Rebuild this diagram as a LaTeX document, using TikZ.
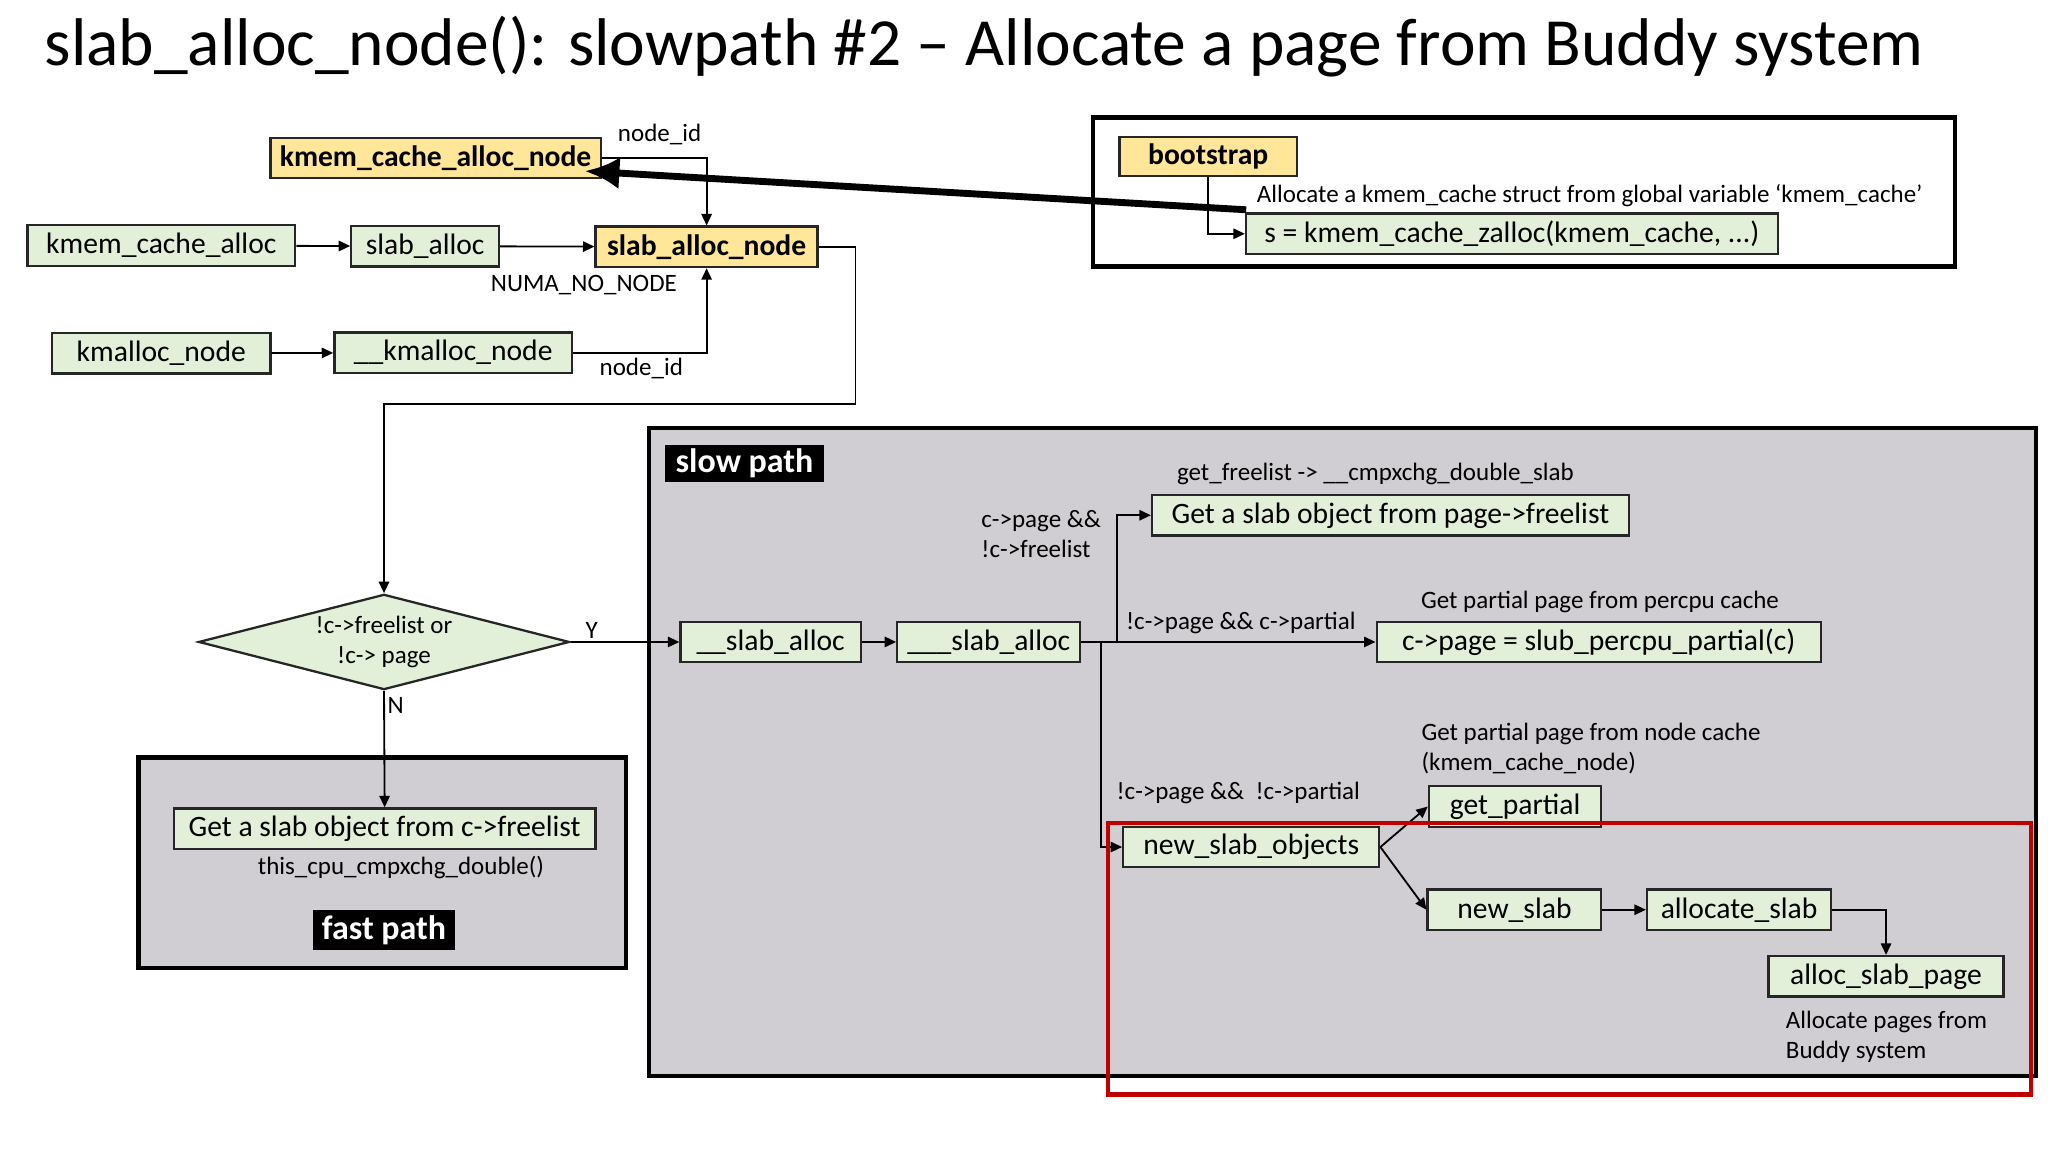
\documentclass[tikz,border=0pt]{standalone}
\usepackage{fontspec}
\setmainfont{Carlito}
\usetikzlibrary{arrows.meta,shapes.geometric,calc}
\definecolor{slabGreen} {RGB}{226, 240, 217}
\definecolor{slabYellow}{RGB}{255, 230, 153}
\definecolor{slabGray}  {RGB}{208, 206, 210}
\definecolor{slabRed}   {RGB}{192,   0,   0}

\tikzset{
  fn/.style={draw=black!85,fill=slabGreen,line width=1pt,
             minimum height=0.62cm,inner sep=1pt,
             font=\fontsize{12.9}{15}\selectfont},
  hot/.style={fn,fill=slabYellow,font=\fontsize{12.9}{15}\selectfont\bfseries},
  lbl/.style={font=\fontsize{10.9}{13}\selectfont,inner sep=0pt,align=left},
  tag/.style={fill=black,text=white,inner sep=1pt,
              font=\fontsize{14.8}{17}\selectfont\bfseries},
  frame/.style={line width=1.8pt},
  arr/.style={-{Triangle[length=5pt,width=4.5pt]},line width=0.8pt},
}

\begin{document}
\begin{tikzpicture}[x=0.02cm,y=-0.02cm]
  \useasboundingbox (0,0) rectangle (1568,882);

  \node[anchor=base west,font=\fontsize{29.4}{34}\selectfont] (title) at (28,50)
    {slab\_alloc\_node(): slowpath \#2 – Allocate a page from Buddy system};

  % containers
  \draw[frame,fill=white] (837,90) rectangle (1497,204);
  \draw[frame,fill=slabGray] (106,580) rectangle (479,741);
  \draw[frame,fill=slabGray] (497,328) rectangle (1559,824);

  % entry points
  \node[hot,minimum width=5.06cm] (kcan) at (333.5,121) {kmem\_cache\_alloc\_node};
  \node[hot,minimum width=3.40cm] (san) at (541,189) {slab\_alloc\_node};
  \node[hot,minimum width=2.72cm,minimum height=0.60cm] (boot) at (925,120) {bootstrap};

  \foreach \nm/\x/\y/\w/\txt in {
    kca/123.5/188/205/{kmem\_cache\_alloc},
    sla/325.5/188.5/113/{slab\_alloc},
    kmn/123.5/270.5/167/{kmalloc\_node},
    kn2/347/270/182/{\_\_kmalloc\_node},
    zal/1157.5/179/407/{s = kmem\_cache\_zalloc(kmem\_cache, ...)},
    fl/294.5/634.5/323/{Get a slab object from c->freelist},
    sa1/590/491.5/138/{\_\_slab\_alloc},
    sa2/757/491.5/140/{\_\_\_slab\_alloc},
    pfl/1064.5/394.5/365/{Get a slab object from page->freelist},
    pcpu/1224/491.5/340/{c->page = slub\_percpu\_partial(c)},
    gp/1160/617.5/132/{get\_partial},
    nso/958/648.5/196/{new\_slab\_objects},
    ns/1159.5/696.5/133/{new\_slab},
    as/1331.5/696.5/141/{allocate\_slab},
    asp/1444/747.5/180/{alloc\_slab\_page}}{
    \node[fn,minimum width=\w*0.02cm] (\nm) at (\x,\y) {\txt};
  }

  \node[diamond,aspect=3.9,draw=black!85,fill=slabGreen,line width=1pt,inner sep=0pt,
        minimum width=5.68cm,minimum height=1.46cm,align=center,
        font=\fontsize{10.9}{13}\selectfont] (cond) at (294,491.5)
    {!c->freelist or\\!c-> page};

  \node[tag,minimum width=2.44cm,minimum height=0.56cm] (slow) at (570,355) {slow path};
  \node[tag,minimum width=2.16cm,minimum height=0.60cm] (fast) at (294,712) {fast path};

  % labels
  \node[lbl] (l1) at (505,103) {node\_id};
  \node[lbl] (l2) at (447,218) {NUMA\_NO\_NODE};
  \node[lbl] (l3) at (491,282) {node\_id};
  \node[lbl,anchor=west] (l4) at (962,150)
    {Allocate a kmem\_cache struct from global variable ‘kmem\_cache’};
  \node[lbl] (ly) at (453,483) {Y};
  \node[lbl] (ln) at (303,540) {N};
  \node[lbl] (l5) at (307,664) {this\_cpu\_cmpxchg\_double()};
  \node[lbl] (l6) at (1053,363) {get\_freelist -> \_\_cmpxchg\_double\_slab};
  \node[lbl,anchor=west] (l7) at (751,409) {c->page \&\&\\!c->freelist};
  \node[lbl] (l8) at (950,477) {!c->page \&\& c->partial};
  \node[lbl] (l9) at (1225,461) {Get partial page from percpu cache};
  \node[lbl] (l10) at (948,607) {!c->page \&\&~~!c->partial};
  \node[lbl,anchor=west] (l11) at (1088,573)
    {Get partial page from node cache\\(kmem\_cache\_node)};
  \node[lbl,anchor=west] (l12) at (1367,794) {Allocate pages from\\Buddy system};

  % connectors
  \draw[arr] (kca) -- (sla);
  \draw[arr] (sla) -- (san);
  \draw[arr] (kmn) -- (kn2);
  \draw[arr] (kcan.east) -| (san.north);
  \draw[arr] (kn2.east) -| (san.south);
  \draw[arr] (boot.south) |- (zal.west);
  \coordinate (bend) at (655,309);
  \draw[arr] (san.east) -| (bend) -| (cond.north);
  \draw[arr] (cond.east) -- (sa1.west);
  \draw[arr] (cond.south) -- (fl.north);
  \draw[arr] (sa1) -- (sa2);
  \draw[arr] (sa2) -- (pcpu);
  \coordinate (splitA) at (855,491.5);
  \coordinate (splitB) at (843,491.5);
  \draw[arr] (splitA) |- (pfl.west);
  \draw[arr] (splitB) |- (nso.west);
  \draw[arr] (nso.east) -- (gp.west);
  \draw[arr] (nso.east) -- (ns.west);
  \draw[arr] (ns) -- (as);
  \draw[arr] (as.east) -| (asp.north);

  \draw[line width=3pt,-{Latex[length=15pt,width=14pt]}]
    ($(zal.north west)+(1,-2)$) -- ($(kcan.east)+(-13,10)$);

  \draw[slabRed,line width=1.8pt] (848,630) rectangle (1555,838);
\end{tikzpicture}
\end{document}
